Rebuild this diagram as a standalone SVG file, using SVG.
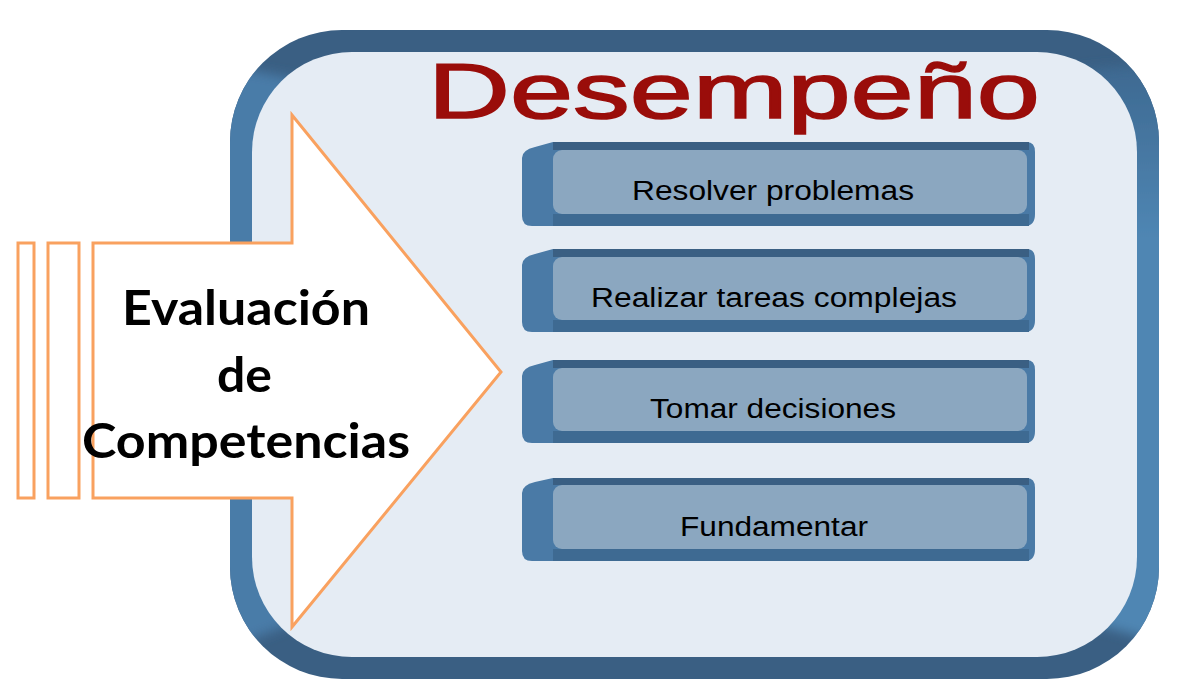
<svg xmlns="http://www.w3.org/2000/svg" width="1183" height="697" viewBox="0 0 1183 697">
<defs>
<clipPath id="frameClip">
<rect x="230" y="30" width="929" height="649" rx="112" ry="112"/>
</clipPath>
<linearGradient id="leftG" x1="0" y1="0" x2="0" y2="1">
<stop offset="0" stop-color="#4a7ca8"/>
<stop offset="1" stop-color="#4a7ca8"/>
</linearGradient>
<linearGradient id="rightG" x1="0" y1="0" x2="0" y2="1">
<stop offset="0" stop-color="#3d6890"/>
<stop offset="0.3" stop-color="#4f86b3"/>
<stop offset="1" stop-color="#4f86b3"/>
</linearGradient>
<filter id="soft" x="-5%" y="-5%" width="110%" height="110%">
<feGaussianBlur stdDeviation="6"/>
</filter>
<style>
.face{fill:#e5ecf4}
.bx{fill:#4a7aa6}
.bxTop{fill:#3a5f83}
.bxBot{fill:#3e6a92}
.bxFace{fill:#8ba7c0}
.lbl{font-family:"Liberation Sans",Arial,sans-serif;font-size:27px;fill:#000}
.ev{font-family:Lato,"Open Sans",sans-serif;font-weight:700;font-size:48px;fill:#000}
.arr{fill:#fff;stroke:#f9a15f;stroke-width:3}
</style>
</defs>
<g id="frame">
<g clip-path="url(#frameClip)">
<rect x="230" y="30" width="929" height="649" fill="#3a5f83"/>
<g filter="url(#soft)">
<polygon points="200,60 300,80 340,150 340,560 300,620 200,660" fill="url(#leftG)"/>
<polygon points="1190,60 1080,70 1050,150 1050,560 1080,620 1190,650" fill="url(#rightG)"/>
</g>
</g>
<rect x="252" y="52" width="885" height="605" rx="100" ry="100" class="face"/>
</g>
<g id="title">
<text x="428" y="118" textLength="612" lengthAdjust="spacingAndGlyphs" font-family="'Liberation Sans',Arial,sans-serif" font-size="77" fill="#9a0d0a" stroke="#9a0d0a" stroke-width="1.5">Desempeño</text>
</g>
<g id="arrow">
<rect x="18" y="243" width="16" height="255" class="arr"/>
<rect x="48" y="243" width="31" height="255" class="arr"/>
<polygon points="93,243 292,243 292,115 501,372 292,627 292,498 93,498" class="arr"/>
<text class="ev" x="122" y="325" textLength="248" lengthAdjust="spacingAndGlyphs">Evaluación</text>
<text class="ev" x="217" y="392" textLength="55" lengthAdjust="spacingAndGlyphs">de</text>
<text class="ev" x="82" y="458" textLength="328" lengthAdjust="spacingAndGlyphs">Competencias</text>
</g>
<g id="box1">
<path class="bx" d="M522,158 Q522,150 535,147 L553,142 L1027,142 Q1035,142 1035,152 L1035,214 Q1035,226 1025,226 L532,226 Q522,226 522,216 Z"/>
<rect class="bxTop" x="553" y="142" width="476" height="8"/>
<rect class="bxBot" x="553" y="214" width="476" height="12"/>
<rect class="bxFace" x="553" y="150" width="474" height="64" rx="9"/>
<text class="lbl" x="632" y="200" textLength="282" lengthAdjust="spacingAndGlyphs">Resolver problemas</text>
</g>
<g id="box2">
<path class="bx" d="M522,265 Q522,257 535,254 L553,249 L1027,249 Q1035,249 1035,259 L1035,320 Q1035,332 1025,332 L532,332 Q522,332 522,322 Z"/>
<rect class="bxTop" x="553" y="249" width="476" height="8"/>
<rect class="bxBot" x="553" y="320" width="476" height="12"/>
<rect class="bxFace" x="553" y="257" width="474" height="63" rx="9"/>
<text class="lbl" x="591" y="307" textLength="366" lengthAdjust="spacingAndGlyphs">Realizar tareas complejas</text>
</g>
<g id="box3">
<path class="bx" d="M522,376 Q522,368 535,365 L553,360 L1027,360 Q1035,360 1035,370 L1035,431 Q1035,443 1025,443 L532,443 Q522,443 522,433 Z"/>
<rect class="bxTop" x="553" y="360" width="476" height="8"/>
<rect class="bxBot" x="553" y="431" width="476" height="12"/>
<rect class="bxFace" x="553" y="368" width="474" height="63" rx="9"/>
<text class="lbl" x="650" y="418" textLength="246" lengthAdjust="spacingAndGlyphs">Tomar decisiones</text>
</g>
<g id="box4">
<path class="bx" d="M522,493 Q522,485 535,482 L553,478 L1027,478 Q1035,478 1035,488 L1035,549 Q1035,561 1025,561 L532,561 Q522,561 522,551 Z"/>
<rect class="bxTop" x="553" y="478" width="476" height="7"/>
<rect class="bxBot" x="553" y="549" width="476" height="12"/>
<rect class="bxFace" x="553" y="485" width="474" height="64" rx="9"/>
<text class="lbl" x="680" y="536" textLength="188" lengthAdjust="spacingAndGlyphs">Fundamentar</text>
</g>
<g id="connectors"/>
</svg>
